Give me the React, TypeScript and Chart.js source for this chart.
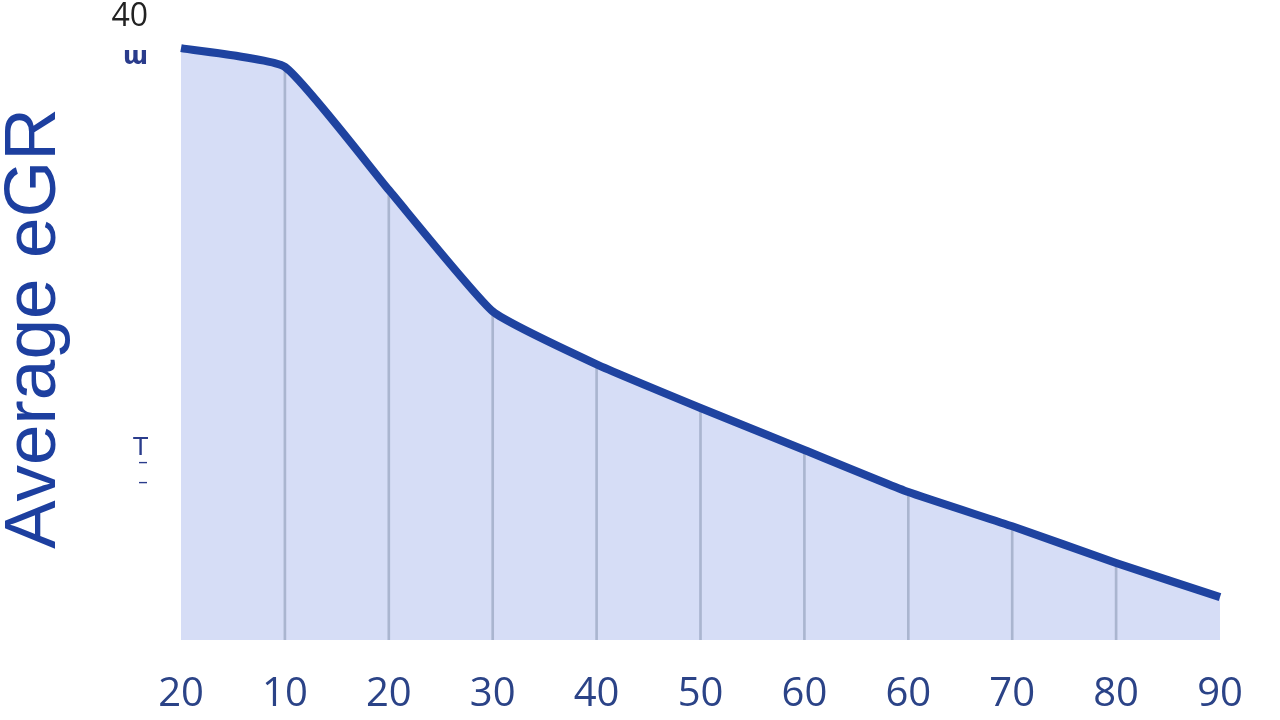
import React, { useEffect, useRef } from 'react';
import { Chart, registerables } from 'chart.js';

Chart.register(...registerables);

// ---- data ----
const categories = ['20', '10', '20', '30', '40', '50', '60', '60', '70', '80', '90'];
const egrValues = [38.0, 36.8, 28.9, 21.1, 17.7, 14.9, 12.2, 9.5, 7.3, 4.95, 2.75];
const yTickValues = [10.1, 11.4, 12.3, 37.4, 40];
const yTickLabels = ['–', '–', 'T', 'ɯ', '40'];
const yAxisTitle = 'Average eGR';
const yMin = 0;
const yMax = 40;

export default function App() {
  const canvasRef = useRef<HTMLCanvasElement | null>(null);

  useEffect(() => {
    if (!canvasRef.current) return;
    const last = egrValues.length - 1;
    const dropValues = egrValues.map((v, i) => (i === 0 || i === last ? null : v));

    const chart = new Chart(canvasRef.current, {
      type: 'line',
      data: {
        labels: categories,
        datasets: [
          {
            type: 'line',
            label: yAxisTitle,
            data: egrValues,
            borderColor: '#1f43a0',
            borderWidth: 8,
            backgroundColor: '#d6ddf6',
            fill: 'origin',
            tension: 0.14,
            pointRadius: 0,
            pointHoverRadius: 0,
            borderCapStyle: 'butt',
            borderJoinStyle: 'round',
            order: 1,
          },
          {
            type: 'bar',
            label: 'drop',
            data: dropValues,
            backgroundColor: '#aab5cf',
            borderWidth: 0,
            barThickness: 2,
            order: 2,
          } as any,
        ],
      },
      options: {
        responsive: false,
        animation: false,
        layout: { padding: { top: 17, right: 60, bottom: 0, left: 0 } },
        plugins: {
          legend: { display: false },
          tooltip: { enabled: false },
          filler: { drawTime: 'beforeDatasetsDraw' },
        },
        scales: {
          x: {
            type: 'category',
            offset: false,
            grid: { display: false, offset: false, drawTicks: false },
            border: { display: false },
            ticks: {
              autoSkip: false,
              maxRotation: 0,
              padding: 31,
              color: '#2b4387',
              font: { family: 'Open Sans', size: 40 },
            },
            afterFit: (scale: any) => {
              scale.height = 80;
            },
          },
          y: {
            type: 'linear',
            min: yMin,
            max: yMax,
            grid: { display: false, drawTicks: false },
            border: { display: false },
            afterBuildTicks: (scale: any) => {
              scale.ticks = yTickValues.map((v) => ({ value: v }));
            },
            ticks: {
              autoSkip: false,
              padding: 33,
              callback: (_v: any, index: number) => yTickLabels[index],
              color: (ctx: any) => (ctx.index === yTickLabels.length - 1 ? '#222222' : '#2a3c8c'),
              font: (ctx: any) => {
                const i = ctx.index;
                if (i === yTickLabels.length - 1) return { family: 'Open Sans', size: 32, lineHeight: 1 };
                if (yTickLabels[i] === 'T') return { family: 'DejaVu Sans', size: 24, lineHeight: 1 };
                if (yTickLabels[i] === 'ɯ') return { family: 'DejaVu Sans', size: 24, weight: 'bold', lineHeight: 1 };
                return { family: 'DejaVu Sans', size: 20, lineHeight: 1 };
              },
            },
            title: {
              display: true,
              text: yAxisTitle,
              color: '#1d3f9f',
              padding: 0,
              font: { family: 'Liberation Sans', size: 73, weight: 'normal', lineHeight: 0.96 },
            },
            afterFit: (scale: any) => {
              scale.width = 181;
              scale.paddingTop = 0;
              scale.paddingBottom = 0;
            },
          },
        },
      },
    });
    return () => chart.destroy();
  }, []);

  return (
    <div style={{ position: 'absolute', left: 0, top: 0, width: 1280, height: 720, background: '#ffffff' }}>
      <canvas ref={canvasRef} width={1280} height={720} />
    </div>
  );
}
